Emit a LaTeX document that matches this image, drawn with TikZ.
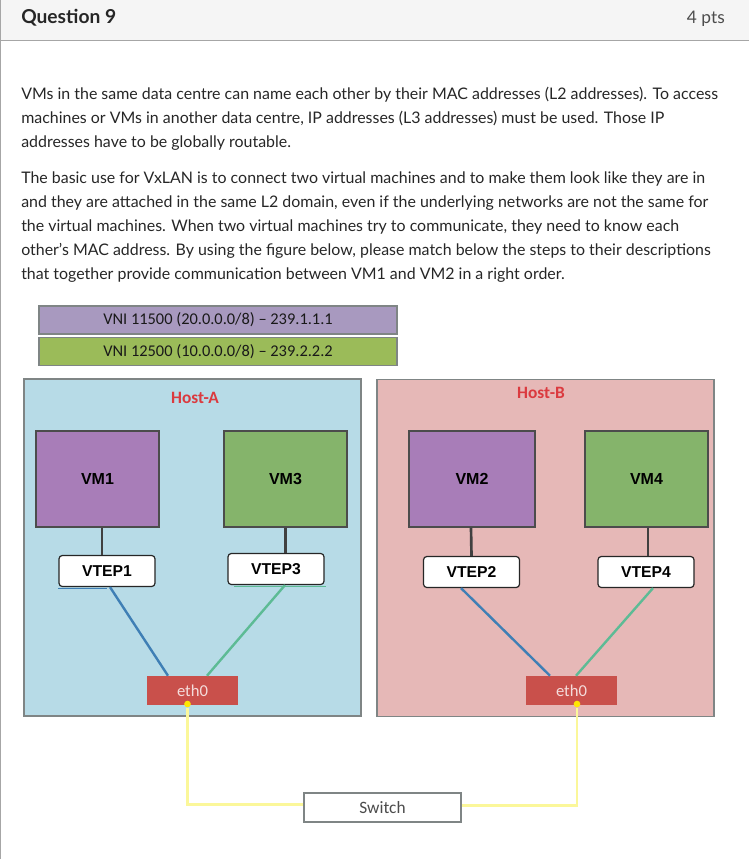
\documentclass[tikz,border=0pt]{standalone}
\usepackage{fontspec}
\usepackage{xcolor}
\setmainfont{Lato}
\newfontfamily\diagfont{Liberation Sans}
\newfontfamily\slidefont{Carlito}
\usetikzlibrary{positioning}
\definecolor{vmpurple}{HTML}{A87DB8}
\definecolor{vmgreen}{HTML}{85B46B}
\definecolor{vnipurple}{HTML}{A899BF}
\definecolor{vnigreen}{HTML}{9BBB59}
\definecolor{hostblue}{HTML}{B7DBE7}
\definecolor{hostpink}{HTML}{E6B8B7}
\definecolor{ethred}{HTML}{C9504B}
\definecolor{hostred}{HTML}{DB3A3F}
\definecolor{edgegray}{HTML}{7F8585}
\definecolor{linkblue}{HTML}{3F7FB5}
\definecolor{linkgreen}{HTML}{5DBB95}
\definecolor{linkyellow}{HTML}{FBF79A}
\def\px{0.75pt}
\tikzset{
  textline/.style={anchor=base west,inner sep=0pt,font=\fontsize{11.95}{14}\selectfont,text=black!85},
  vnibar/.style={draw=edgegray,line width=1pt,minimum width=358*\px,minimum height=28*\px,inner sep=0pt,
    font=\slidefont\fontsize{12.3}{14}\selectfont,text=black!90},
  hostbox/.style={draw=edgegray,line width=1.2pt,minimum width=337*\px,minimum height=337*\px,inner sep=0pt},
  vmbox/.style={draw=black!70,line width=0.9pt,minimum height=96*\px,inner sep=0pt,
    font=\diagfont\bfseries\fontsize{12}{14}\selectfont},
  vtepbox/.style={draw=black!85,fill=white,rounded corners=2.5pt,line width=0.9pt,minimum width=96*\px,
    minimum height=31*\px,inner sep=0pt,font=\diagfont\bfseries\fontsize{11.8}{14}\selectfont},
  ethbox/.style={fill=ethred,minimum width=91*\px,minimum height=29*\px,inner sep=0pt,
    text=white!80!ethred,font=\slidefont\fontsize{12.5}{14}\selectfont},
  hostlabel/.style={inner sep=0pt,text=hostred,font=\slidefont\bfseries\fontsize{13}{15}\selectfont},
  vmlink/.style={draw=black!75,line width=2pt},
  bluelink/.style={draw=linkblue,line width=1.8pt},
  greenlink/.style={draw=linkgreen,line width=1.8pt},
  yellowlink/.style={draw=linkyellow,line width=1.6pt},
  portdot/.style={circle,fill=yellow!90!orange,minimum size=5pt,inner sep=0pt}
}
\begin{document}
\begin{tikzpicture}[x=0.75pt,y=-0.75pt]
    \useasboundingbox (0,0) rectangle (749,859);
    % question header
    \fill[black!4] (0,0) rectangle (749,40);
    \draw[black!35,line width=0.9pt] (0,40.5) -- (749,40.5);
    \draw[black!35,line width=1.2pt] (0.5,0) -- (0.5,859);
    \node[anchor=base west,inner sep=0pt,font=\fontsize{14.4}{16}\bfseries\selectfont,text=black!85] (title) at (21,24) {Question 9};
    \node[anchor=base east,inner sep=0pt,font=\fontsize{13}{16}\selectfont,text=black!70] (points) at (725,24) {4 pts};
    % question text
    \node[textline] (linea) at (21,99.5) {VMs in the same data centre can name each other by their MAC addresses (L2 addresses). To access};
    \node[textline] (lineb) at (21,123.5) {machines or VMs in another data centre, IP addresses (L3 addresses) must be used. Those IP};
    \node[textline] (linec) at (21,147.5) {addresses have to be globally routable.};
    \node[textline] (lined) at (21,183.5) {The basic use for VxLAN is to connect two virtual machines and to make them look like they are in};
    \node[textline] (linee) at (21,207.5) {and they are attached in the same L2 domain, even if the underlying networks are not the same for};
    \node[textline] (linef) at (21,231.5) {the virtual machines. When two virtual machines try to communicate, they need to know each};
    \node[textline] (lineg) at (21,255.5) {other's MAC address. By using the figure below, please match below the steps to their descriptions};
    \node[textline] (lineh) at (21,279.5) {that together provide communication between VM1 and VM2 in a right order.};
    % legend
    \node[vnibar,fill=vnipurple] (vnia) at (218,320) {VNI 11500 (20.0.0.0/8) – 239.1.1.1};
    \node[vnibar,fill=vnigreen] (vnib) at (218,351.5) {VNI 12500 (10.0.0.0/8) – 239.2.2.2};
    % hosts
    \node[hostbox,fill=hostblue] (hosta) at (192.5,547.5) {};
    \node[hostbox,fill=hostpink] (hostb) at (545.5,548) {};
    \node[hostlabel] (hostalabel) at (195,398) {Host-A};
    \node[hostlabel] (hostblabel) at (541,393) {Host-B};
    % virtual machines
    \node[vmbox,fill=vmpurple,minimum width=123*\px] (vm1) at (97.5,479) {VM1};
    \node[vmbox,fill=vmgreen,minimum width=123*\px] (vm3) at (285.5,479) {VM3};
    \node[vmbox,fill=vmpurple,minimum width=126*\px] (vm2) at (472,479) {VM2};
    \node[vmbox,fill=vmgreen,minimum width=123*\px] (vm4) at (646.5,479) {VM4};
    % tunnel end points
    \node[vtepbox] (vtep1) at (107,571) {VTEP1};
    \node[vtepbox] (vtep3) at (276,569) {VTEP3};
    \node[vtepbox] (vtep2) at (471.5,572) {VTEP2};
    \node[vtepbox] (vtep4) at (646,572) {VTEP4};
    \node[ethbox] (etha) at (192.5,690.5) {eth0};
    \node[ethbox] (ethb) at (571.5,690.5) {eth0};
    \node[draw=edgegray,line width=1.2pt,fill=white,minimum width=157*\px,minimum height=29*\px,inner sep=0pt,
      text=black!70,font=\slidefont\fontsize{13}{15}\selectfont] (switch) at (382.5,807.5) {Switch};
    % links
    \draw[vmlink] ([xshift=4.5*\px]vm1.south) -- ([xshift=-5*\px]vtep1.north);
    \draw[vmlink] (vm3.south) -- ([xshift=9.5*\px]vtep3.north);
    \draw[vmlink] ([xshift=-1*\px]vm2.south) -- (vtep2.north);
    \draw[vmlink] ([xshift=1.5*\px]vm4.south) -- ([xshift=2*\px]vtep4.north);
    \draw[bluelink] ([xshift=3*\px]vtep1.south) -- ([xshift=-24.5*\px]etha.north);
    \draw[greenlink] ([xshift=9*\px]vtep3.south) -- ([xshift=14.5*\px]etha.north);
    \draw[bluelink] ([xshift=-10.5*\px]vtep2.south) -- ([xshift=-21.5*\px]ethb.north);
    \draw[greenlink] ([xshift=7*\px]vtep4.south) -- ([xshift=4.5*\px]ethb.north);
    \draw[greenlink,line width=1pt] ([xshift=7*\px,yshift=-1.5*\px]vtep3.south west) -- ([xshift=1*\px,yshift=-1.5*\px]vtep3.south east);
    \draw[bluelink,line width=0.5pt] ([yshift=-1*\px]vtep1.south west) -- ([yshift=-1*\px]vtep1.south);
    % uplinks to the switch
    \node[portdot] (porta) at (187.5,704) {};
    \node[portdot] (portb) at (577,704) {};
    \draw[yellowlink] (porta) |- ([yshift=3*\px]switch.west);
    \draw[yellowlink] (portb) |- ([yshift=2*\px]switch.east);
\end{tikzpicture}
\end{document}
